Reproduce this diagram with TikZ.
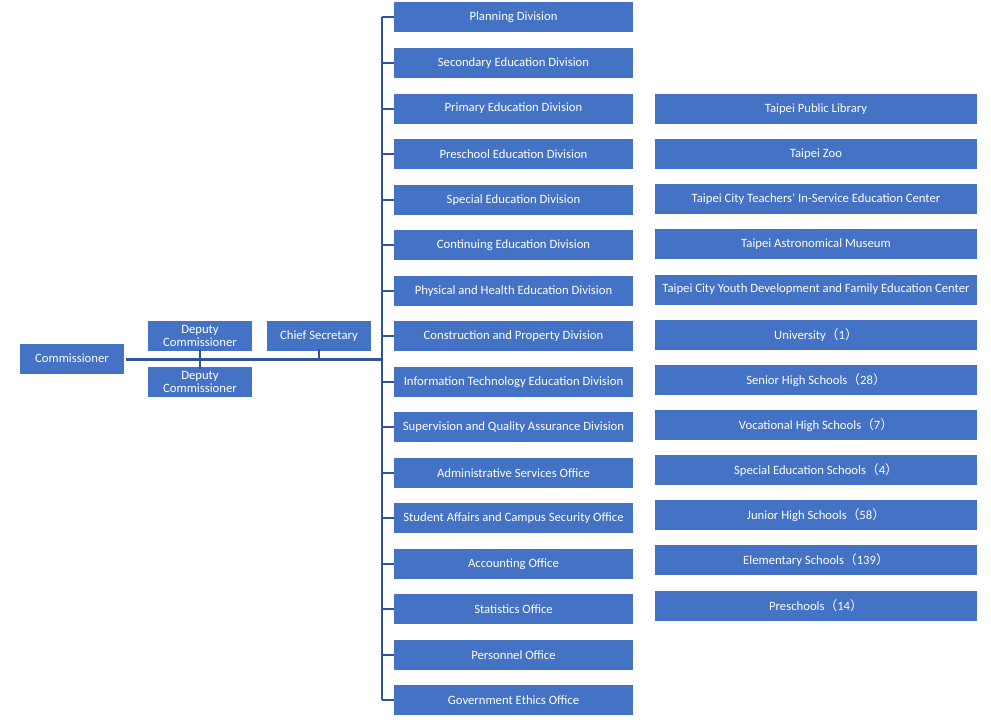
\documentclass[tikz,border=0pt]{standalone}
\usepackage{fontspec}
\setmainfont{Carlito}
\newfontfamily\cjkfont{Noto Sans CJK SC}
\newcommand{\lpar}{{\cjkfont （}}
\newcommand{\rpar}{{\cjkfont ）}}
\definecolor{boxblue}{HTML}{4472C4}
\definecolor{linkblue}{HTML}{2F5597}
\begin{document}
\begin{tikzpicture}[x=1pt,y=-1pt,
  box/.style={fill=boxblue, text=white, inner sep=0pt, minimum height=30pt,
    font=\fontsize{12.7}{14}\selectfont, align=center},
  smallbox/.style={box, minimum width=104pt},
  leftbox/.style={box, minimum width=239pt},
  rightbox/.style={box, minimum width=322pt},
  link/.style={draw=linkblue, line width=2pt},
  mainlink/.style={draw=linkblue, line width=3pt}]
\useasboundingbox (0,0) rectangle (991,722);

% top-level boxes
\node[smallbox] (comm) at (72,358.5) {Commissioner};
\node[smallbox, font=\fontsize{12.7}{13.5}\selectfont] (dep1) at (200,336) {Deputy\\Commissioner};
\node[smallbox, font=\fontsize{12.7}{13.5}\selectfont] (dep2) at (200,382) {Deputy\\Commissioner};
\node[smallbox] (chief) at (319,336) {Chief Secretary};

% left column
\foreach \i/\t in {0/Planning Division,
  1/Secondary Education Division,
  2/Primary Education Division,
  3/Preschool Education Division,
  4/Special Education Division,
  5/Continuing Education Division,
  6/Physical and Health Education Division,
  7/Construction and Property Division,
  8/Information Technology Education Division,
  9/Supervision and Quality Assurance Division,
  10/Administrative Services Office,
  11/Student Affairs and Campus Security Office,
  12/Accounting Office,
  13/Statistics Office,
  14/Personnel Office,
  15/Government Ethics Office}
  \node[leftbox] (d\i) at (513.5,{17.5+45.53*\i}) {\t};

% right column
\node[rightbox] (r0) at (816,109) {Taipei Public Library};
\node[rightbox] (r1) at (816,{109+45.14*1}) {Taipei Zoo};
\node[rightbox] (r2) at (816,{109+45.14*2}) {Taipei City Teachers’ In-Service Education Center};
\node[rightbox] (r3) at (816,{109+45.14*3}) {Taipei Astronomical Museum};
\node[rightbox] (r4) at (816,{109+45.14*4}) {Taipei City Youth Development and Family Education Center};
\node[rightbox] (r5) at (816,{109+45.14*5}) {University\lpar 1\rpar};
\node[rightbox] (r6) at (816,{109+45.14*6}) {Senior High Schools\lpar 28\rpar};
\node[rightbox] (r7) at (816,{109+45.14*7}) {Vocational High Schools\lpar 7\rpar};
\node[rightbox] (r8) at (816,{109+45.14*8}) {Special Education Schools\lpar 4\rpar};
\node[rightbox] (r9) at (816,{109+45.14*9}) {Junior High Schools\lpar 58\rpar};
\node[rightbox] (r10) at (816,{109+45.14*10}) {Elementary Schools\lpar 139\rpar};
\node[rightbox] (r11) at (816,{109+45.14*11}) {Preschools\lpar 14\rpar};

% trunk
\coordinate (trunk) at (382,0);
\draw[link] (trunk |- d0.west) -- (trunk |- d15.west);
\foreach \i in {0,...,15}
  \draw[link] (trunk |- d\i.west) -- (d\i.west);

% main line
\coordinate (mainy) at (0,359);
\draw[mainlink] ([xshift=2pt]comm.east |- mainy) -- (trunk |- mainy);
\draw[link, line width=1.5pt] ([yshift=2pt]dep1.south) -- ([yshift=-2pt]dep2.north);
\draw[link, line width=1.5pt] ([yshift=2pt]chief.south) -- (chief.south |- mainy);
\end{tikzpicture}
\end{document}
